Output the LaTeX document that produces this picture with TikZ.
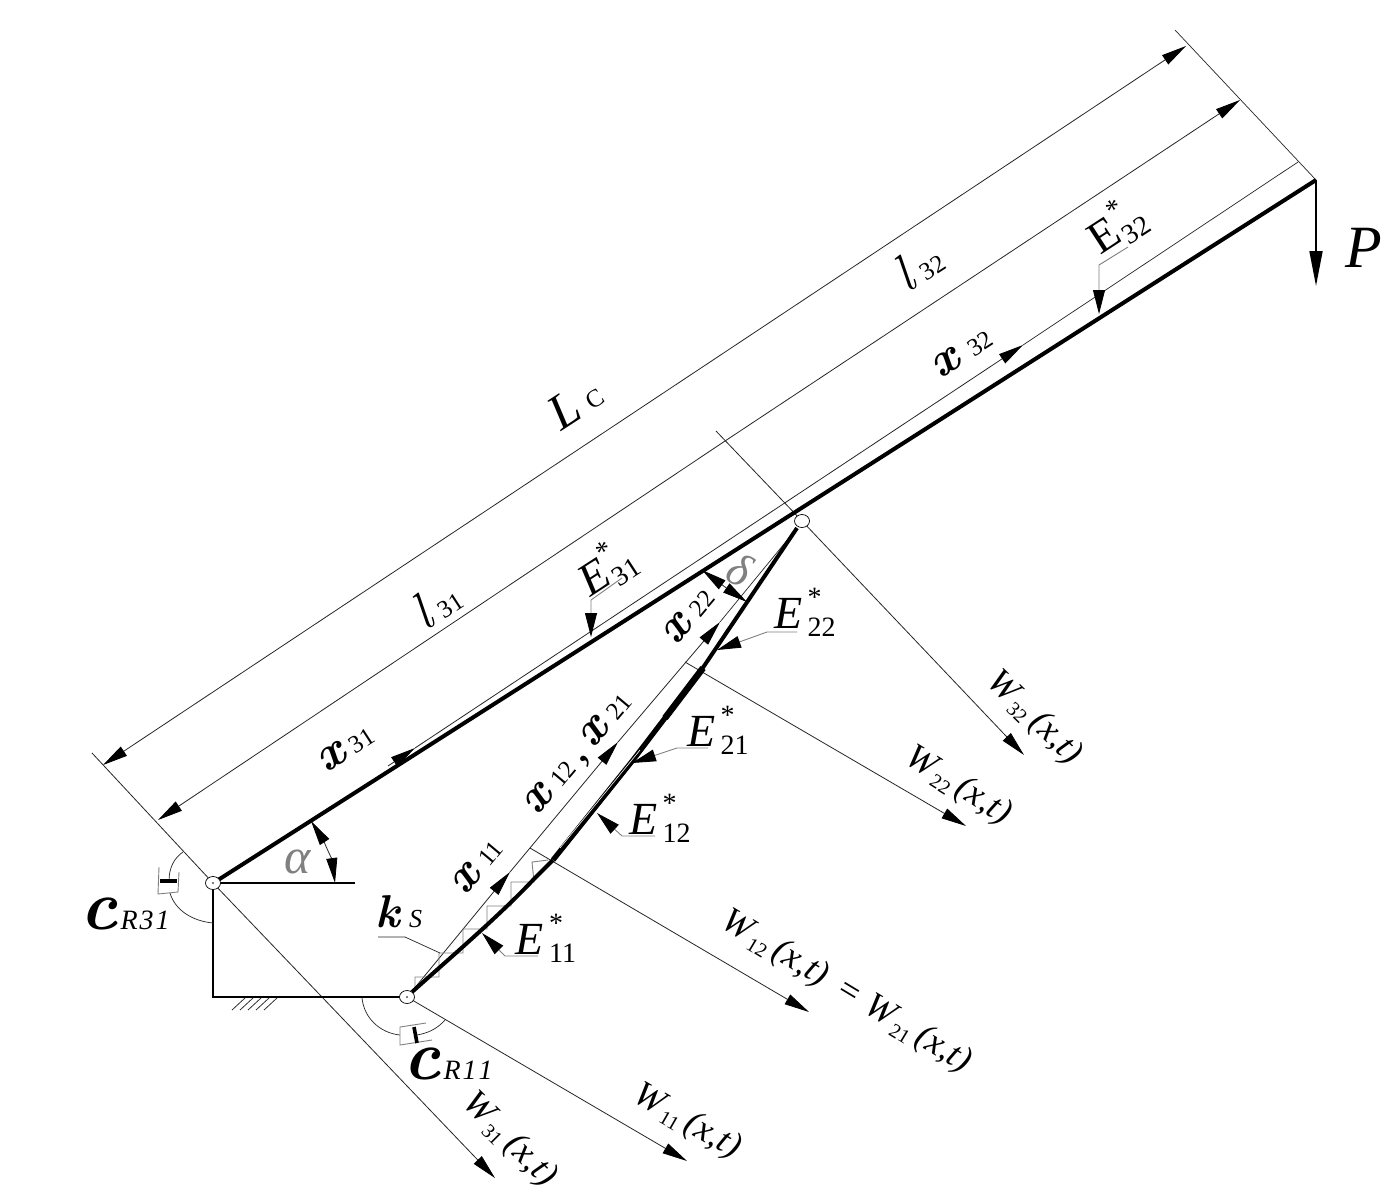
\documentclass[tikz,border=0pt]{standalone}
\usepackage{fontspec}
\setmainfont{Liberation Serif}
\newfontfamily\lmf{Latin Modern Roman}
\usetikzlibrary{arrows.meta}
\newcommand{\fs}[1]{\fontsize{#1}{#1}\selectfont}
\newcommand{\sub}[1]{{\fs{25}\upshape #1}}
\newcommand{\vx}{{\fs{48}\lmf\bfseries\itshape x}}
\newcommand{\vl}{{\fs{52}\lmf\itshape l}}
\newcommand{\Es}[2]{{\fs{46}\itshape E}\kern#2pt\rlap{\raisebox{22pt}{\fs{28}\upshape *}}\raisebox{-8pt}{\fs{28}\upshape #1}}
\newcommand{\EsU}[2]{{\fs{46}\upshape E}\kern#2pt\rlap{\raisebox{22pt}{\fs{28}\upshape *}}\raisebox{-8pt}{\fs{28}\upshape #1}}
\newcommand{\Wl}[1]{{\fs{36}\itshape W}\raisebox{-6pt}{\fs{20}\upshape\,#1}{\fs{36}\itshape\,(x,t)}}
\tikzset{
  ln/.style={line width=0.7pt,black!85},
  med/.style={line width=1.1pt,black},
  beam/.style={line width=4pt,black},
  gr/.style={line width=0.9pt,black!50},
  arr/.style={line width=0.8pt,black!85,-{Triangle[length=25pt,width=11pt,black]}},
  arrr/.style={line width=0.8pt,black!85,{Triangle[length=25pt,width=11pt,black]}-{Triangle[length=25pt,width=11pt,black]}},
  lead/.style={gr,-{Triangle[length=24pt,width=12pt,black]}},
  txt/.style={inner sep=0pt,outer sep=0pt,text=black}
}
\begin{document}
\begin{tikzpicture}[x=1pt,y=-1pt]
\path[use as bounding box,fill=white] (0,0) rectangle (1391,1192);
% key points
\coordinate (A) at (213,883);
\coordinate (B) at (407,997);
\coordinate (C) at (802,521);
\coordinate (T) at (1316,180);
\coordinate (Ab) at (218,880);
\coordinate (Bb) at (412,992);
\coordinate (Cb) at (797,528);
% dimension lines
\coordinate (La) at (103,765); \coordinate (Lb) at (1186,46);
\coordinate (la) at (158,820); \coordinate (lb) at (1240,100);
\coordinate (lm) at (725,441);
\draw[arrr] (La) -- (Lb);
\draw[arr] (lm) -- (la);
\draw[arr] (lm) -- (lb);
% extension lines and W axes
\coordinate (e1) at (92,753); \coordinate (w31) at (495,1178);
\coordinate (e2) at (716,431); \coordinate (w32) at (1024,755);
\coordinate (e3) at (1175,30);
\draw[arr] (e1) -- (A) -- (w31);
\draw[arr] (e2) -- (C) -- (w32);
\draw[ln] (e3) -- (T);
\coordinate (w22a) at (685,662); \coordinate (w22) at (966,826);
\coordinate (w12a) at (530,848); \coordinate (w12) at (809,1012);
\coordinate (w11) at (687,1161);
\draw[arr] (w22a) -- (w22);
\draw[arr] (w12a) -- (w12);
\draw[arr] (B) -- (w11);
% thin axes on upper beam
\coordinate (xa) at (388,766); \coordinate (xb) at (1298,162);
\coordinate (x31t) at (415,748); \coordinate (x32t) at (1023,345);
\draw[arr] (xa) -- (x31t);
\draw[arr] (x31t) -- (x32t);
\draw[ln] (x32t) -- (xb);
% thin axis on lower beam
\coordinate (ya) at (413,990); \coordinate (yb) at (793,533);
\coordinate (x11t) at (510,872); \coordinate (x21t) at (618,742); \coordinate (x22t) at (720,622);
\draw[arr] (ya) -- (x11t);
\draw[arr] (x11t) -- (x21t);
\draw[arr] (x21t) -- (x22t);
\draw[ln] (x22t) -- (yb);
% frame
\coordinate (G1) at (213,997);
\coordinate (H1) at (355,883);
\draw[med] (A) -- (G1) -- (B);
\draw[med] (A) -- (H1);
\foreach \hx in {232,240,248,256,264}{\draw[line width=0.8pt,black!80] (\hx,1010) -- (\hx+13,998);}
% spring staircase
\draw[gr] (415,987) -- (415,977) -- (439,977) -- (439,953) -- (463,953) -- (463,929) -- (487,929) -- (487,906) -- (511,906) -- (511,882) -- (534,882) -- (532,862) -- (548,860);
% beams
\draw[beam] (Ab) -- (T);
\draw[beam] (Bb) .. controls (450,958) and (500,915) .. (533,880) -- (553,860);
\draw[line width=5.2pt] (553,860) -- (633,760) -- (700,672);
\draw[line width=0.6pt,white] (560,848) -- (640,750);
\draw[line width=6.5pt] (665,718) -- (703,668);
\draw[beam] (700,672) -- (Cb);
% hinges
\draw[line width=0.7pt,fill=white] (A) ellipse [x radius=7.5,y radius=6.5];
\draw[line width=0.7pt,fill=white] (B) ellipse [x radius=7.5,y radius=6.5];
\draw[line width=0.7pt,fill=white] (C) ellipse [x radius=7.5,y radius=6.5];
\fill (A) circle (0.8); \fill (B) circle (0.8);
% alpha
\coordinate (a1) at (311,821); \coordinate (a2) at (335,883);
\draw[arrr] (a1) .. controls (322,838) and (332,860) .. (a2);
% delta
\coordinate (d1) at (702,570); \coordinate (d2) at (747,602); \coordinate (dm) at (725,587);
\draw[arr] (dm) -- (d1);
\draw[arr] (dm) -- (d2);
% P
\coordinate (Pe) at (1316,286);
\draw[line width=1.8pt,-{Triangle[length=35pt,width=13pt]}] (T) -- (Pe);
% leaders
\coordinate (E32a) at (1128,247); \coordinate (E32b) at (1099,265); \coordinate (E32t) at (1099,314);
\draw[lead] (E32a) -- (E32b) -- (E32t);
\coordinate (E31a) at (622,578); \coordinate (E31b) at (591,600); \coordinate (E31t) at (591,637);
\draw[lead] (E31a) -- (E31b) -- (E31t);
\coordinate (E22a) at (797,632); \coordinate (E22b) at (767,632); \coordinate (E22t) at (717,650);
\draw[lead] (E22a) -- (E22b) -- (E22t);
\coordinate (E21a) at (708,748); \coordinate (E21b) at (677,748); \coordinate (E21t) at (632,763);
\draw[lead] (E21a) -- (E21b) -- (E21t);
\coordinate (E12a) at (655,836); \coordinate (E12b) at (622,836); \coordinate (E12t) at (597,813);
\draw[lead] (E12a) -- (E12b) -- (E12t);
\coordinate (E11a) at (538,956); \coordinate (E11b) at (505,956); \coordinate (E11t) at (482,933);
\draw[lead] (E11a) -- (E11b) -- (E11t);
\coordinate (ksa) at (378,937); \coordinate (ksb) at (405,937); \coordinate (ksc) at (440,953);
\draw[ln] (ksa) -- (ksb) -- (ksc);
% dashpot R31
\draw[ln] (183,852) .. controls (174,858) and (169,868) .. (169,881);
\draw[ln] (170,893) .. controls (175,910) and (192,921) .. (213,923);
\draw[gr] (159,867) -- (158,894) -- (178,892) -- (179,872);
\draw[line width=3.6pt] (160,881) -- (177,881);
% dashpot R11
\draw[ln] (362,998) .. controls (364,1018) and (380,1033) .. (400,1035);
\draw[ln] (445,1020) .. controls (437,1029) and (428,1033) .. (417,1035);
\draw[gr] (426,1023) -- (400,1027) -- (400,1045) -- (432,1040);
\draw[line width=3.6pt] (414,1027) -- (417,1043);
% labels
\node[txt,rotate=33] (lLc) at (575,403) {{\fs{50}\itshape L}\kern10pt{\fs{25}C}};
\node[txt,rotate=33] (ll32) at (918,266) {\vl\kern10pt\sub{32}};
\node[txt,rotate=33] (ll31) at (436,604) {\vl\kern10pt\sub{31}};
\node[txt,rotate=33] (lx32) at (962,353) {\vx\kern14pt\sub{32}};
\node[txt,rotate=33] (lx31) at (346,748) {\vx\kern8pt\sub{31}};
\node[txt,rotate=50] (lx22) at (688,616) {\vx\kern10pt\sub{22}};
\node[txt,rotate=50] (lx1221) at (580,755) {\vx\kern10pt\sub{12}\kern7pt{\fs{46},}\kern7pt\vx\kern10pt\sub{21}};
\node[txt,rotate=50] (lx11) at (477,866) {\vx\kern10pt\sub{11}};
\node[txt,rotate=33] (lE32) at (1116,226) {\EsU{32}{2}};
\node[txt,rotate=33] (lE31) at (606,568) {\Es{31}{2}};
\node[txt] (lE22) at (805,612) {\Es{22}{5}};
\node[txt] (lE21) at (718,730) {\Es{21}{5}};
\node[txt] (lE12) at (660,818) {\Es{12}{5}};
\node[txt] (lE11) at (546,938) {\Es{11}{5}};
\node[txt,rotate=-44] (lW32) at (1034,718) {\Wl{32}};
\node[txt,rotate=-32] (lW22) at (958,786) {\Wl{22}};
\node[txt,rotate=-31] (lW12) at (846,992) {{\fs{36}\itshape W}\raisebox{-6pt}{\fs{20}\upshape\,12}{\fs{36}\itshape\,(x,t)\,}\kern2pt{\fs{36} = }\kern2pt{\fs{36}\itshape W}\raisebox{-6pt}{\fs{20}\upshape\,21}{\fs{36}\itshape\,(x,t)}};
\node[txt,rotate=-30] (lW11) at (687,1122) {\Wl{11}};
\node[txt,rotate=-45] (lW31) at (509,1140) {\Wl{31}};
\node[txt] (lP) at (1364,248) {{\fs{60}\itshape P}};
\node[txt] (lks) at (399,912) {{\fs{46}\lmf\bfseries\itshape k}\kern9pt{\fs{26}\itshape S}};
\node[txt] (lcr31) at (125,914) {{\fs{70}\lmf\bfseries\itshape c}\kern3pt{\fs{28}\itshape R\kern2pt 3\kern2pt 1}};
\node[txt] (lcr11) at (448,1064) {{\fs{70}\lmf\bfseries\itshape c}\kern3pt{\fs{28}\itshape R\kern2pt 1\kern2pt 1}};
\node[txt,text=black!50] (lalpha) at (298,862) {{\fs{50}\itshape α}};
\node[txt,text=black!50,rotate=-25] (ldelta) at (740,570) {{\fs{46}\itshape δ}};
\end{tikzpicture}
\end{document}
